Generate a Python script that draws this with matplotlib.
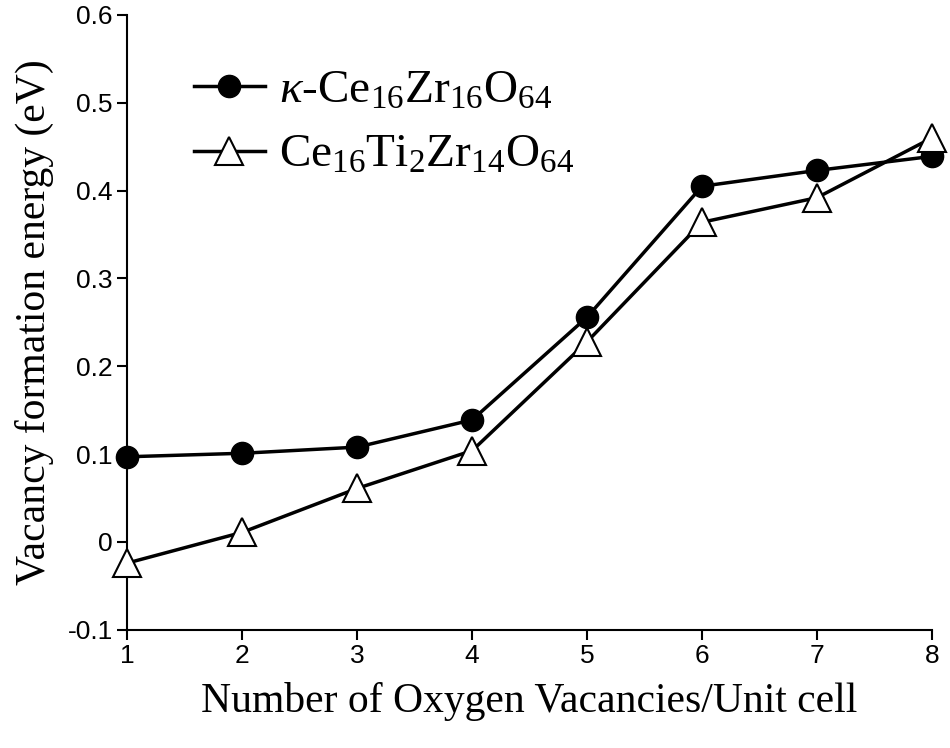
import matplotlib
matplotlib.use("Agg")
import matplotlib.pyplot as plt

x = [1, 2, 3, 4, 5, 6, 7, 8]
ce_zr = [0.097, 0.101, 0.108, 0.139, 0.256, 0.405, 0.423, 0.439]
ce_ti_zr = [-0.024, 0.011, 0.061, 0.104, 0.228, 0.364, 0.392, 0.460]
yticks = [-0.1, 0, 0.1, 0.2, 0.3, 0.4, 0.5, 0.6]
yticklabels = ["-0.1", "0", "0.1", "0.2", "0.3", "0.4", "0.5", "0.6"]

plt.rcParams["mathtext.fontset"] = "custom"
plt.rcParams["mathtext.rm"] = "Liberation Serif"
plt.rcParams["mathtext.it"] = "Liberation Serif:italic"

fig = plt.figure(figsize=(9.5, 7.48), dpi=100)
ax = fig.add_axes([0.134, 0.158, 0.847, 0.822])
ax.plot(x, ce_zr, color="black", lw=2.5, marker="o", ms=16, mfc="black",
        label=r"$\kappa$-Ce$_{16}$Zr$_{16}$O$_{64}$", clip_on=False, zorder=3)
ax.plot(x, ce_ti_zr, color="black", lw=2.5, marker="^", ms=20, mfc="white", mew=1.5,
        label=r"Ce$_{16}$Ti$_2$Zr$_{14}$O$_{64}$", clip_on=False, zorder=4)
ax.set_xlim(1, 8)
ax.set_ylim(-0.1, 0.6)
ax.set_xticks(x)
ax.set_yticks(yticks)
ax.set_yticklabels(yticklabels)
for s in ["top", "right"]:
    ax.spines[s].set_visible(False)
for s in ["left", "bottom"]:
    ax.spines[s].set_linewidth(1.5)
ax.tick_params(direction="out", length=7, width=1.5, labelsize=19)
for lab in ax.get_xticklabels() + ax.get_yticklabels():
    lab.set_family("Liberation Sans")
ax.set_xlabel("Number of Oxygen Vacancies/Unit cell", family="Liberation Serif", fontsize=30, labelpad=10)
ax.set_ylabel("Vacancy formation energy (eV)", family="Liberation Serif", fontsize=30, labelpad=10)
leg = ax.legend(loc="upper left", bbox_to_anchor=(0.03, 0.98), frameon=False,
                prop={"family": "Liberation Serif", "size": 34}, handlelength=1.5,
                labelspacing=0.45, handletextpad=0.3)
fig.savefig("out.png", dpi=100)
